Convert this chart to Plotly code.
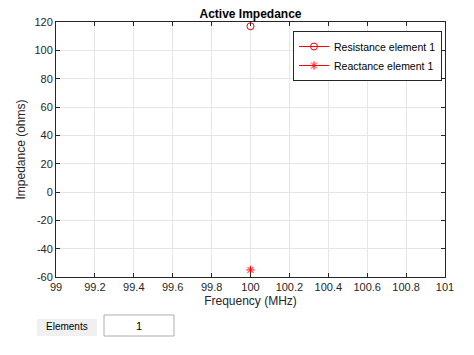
import plotly.graph_objects as go

# ---- data ----
freq_mhz = [100.0]
resistance = [117.0]
reactance = [-55.0]
x_ticks = [99, 99.2, 99.4, 99.6, 99.8, 100, 100.2, 100.4, 100.6, 100.8, 101]
x_labels = ["99", "99.2", "99.4", "99.6", "99.8", "100", "100.2", "100.4", "100.6", "100.8", "101"]
y_ticks = [-60, -40, -20, 0, 20, 40, 60, 80, 100, 120]
y_labels = ["-60", "-40", "-20", "0", "20", "40", "60", "80", "100", "120"]

# page has an 8px body margin; figure sized to fit inside the window
OFF = 8
W, H = 474 - 2 * OFF, 355 - 2 * OFF
# plot area in screen pixels: x 56..445, y 22..277
SL, SR, ST, SB = 56, 445, 22, 277
L, T = SL - OFF, ST - OFF
R = W - (SR - OFF)
B = H - (SB - OFF)
PW, PH = SR - SL, SB - ST

def px(x):  # screen x -> paper
    return (x - SL) / PW

def py(y):  # screen y -> paper
    return (SB - y) / PH

FONT = "Liberation Sans, Arial, sans-serif"
AX = "#262626"

fig = go.Figure()
fig.add_trace(go.Scatter(
    x=freq_mhz, y=resistance, mode="lines+markers", name="Resistance element 1",
    line=dict(color="red", width=1),
    marker=dict(symbol="circle-open", size=7, color="red", line=dict(width=1)),
))
fig.add_trace(go.Scatter(
    x=freq_mhz, y=reactance, mode="lines+markers", name="Reactance element 1",
    line=dict(color="red", width=1),
    marker=dict(symbol="asterisk-open", size=7, color="red", line=dict(width=1, color="red")),
))

axis_common = dict(
    showline=True, linecolor=AX, linewidth=1, mirror="ticks",
    ticks="inside", ticklen=4, tickcolor=AX,
    showgrid=True, gridcolor="#e6e6e6", gridwidth=1, zeroline=False,
    tickfont=dict(family=FONT, size=11, color=AX), automargin=False,
)

fig.update_layout(
    width=W, height=H,
    margin=dict(l=L, r=R, t=T, b=B, autoexpand=False),
    paper_bgcolor="white", plot_bgcolor="white",
    font=dict(family=FONT, color=AX),
    title=dict(text="<b>Active Impedance</b>", x=(250.5 - OFF) / W, xanchor="center",
               yref="container", y=1, yanchor="top", pad=dict(t=2, b=0),
               font=dict(family=FONT, size=12, color="black")),
    xaxis=dict(range=[99, 101], tickvals=x_ticks, ticktext=x_labels,
               title=dict(text="Frequency (MHz)", font=dict(family=FONT, size=12, color=AX), standoff=4),
               **axis_common),
    yaxis=dict(range=[-60, 120], tickvals=y_ticks, ticktext=y_labels,
               title=dict(text="Impedance (ohms)", font=dict(family=FONT, size=12, color=AX), standoff=6),
               **axis_common),
    legend=dict(x=px(293), y=py(31), xanchor="left", yanchor="top",
                bgcolor="white", bordercolor=AX, borderwidth=1,
                font=dict(family=FONT, size=10.5, color="black"),
                tracegroupgap=0, itemwidth=30),
    showlegend=True,
)

# UI controls below the axes
fig.add_shape(type="rect", xref="paper", yref="paper",
              x0=px(37), x1=px(97), y0=py(319), y1=py(336),
              fillcolor="#f0f0f0", line=dict(width=0), layer="above")
fig.add_annotation(xref="paper", yref="paper", x=px(67), y=py(326),
                   text="Elements", showarrow=False,
                   font=dict(family=FONT, size=10, color="black"),
                   xanchor="center", yanchor="middle")
fig.add_shape(type="rect", xref="paper", yref="paper",
              x0=px(104), x1=px(174), y0=py(315), y1=py(336),
              fillcolor="white", line=dict(width=1, color="#adadad"), layer="above")
fig.add_annotation(xref="paper", yref="paper", x=px(139), y=py(326),
                   text="1", showarrow=False,
                   font=dict(family=FONT, size=11, color="black"),
                   xanchor="center", yanchor="middle")

fig.write_html("out.html")
